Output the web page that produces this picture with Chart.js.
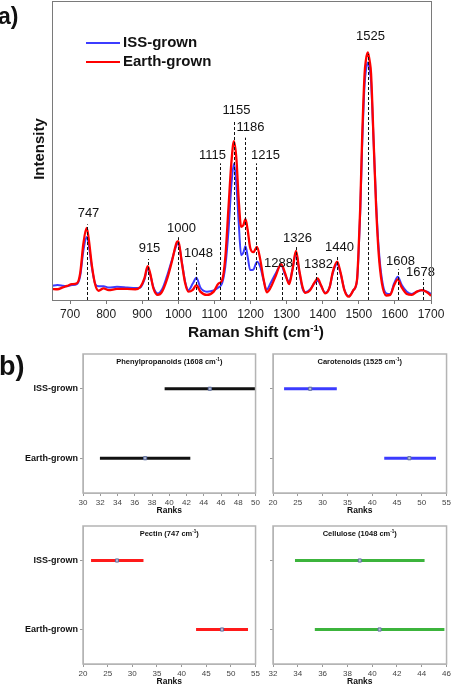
<!DOCTYPE html>
<html>
<head>
<meta charset="utf-8">
<script src="https://cdn.jsdelivr.net/npm/chart.js@4.4.1/dist/chart.umd.min.js"></script>
<style>
  body { margin: 0; background: #fff; }
  #wrap { position: relative; width: 453px; height: 685px; overflow: hidden; background: #fff; }
  .box { position: absolute; }
</style>
</head>
<body>
<div id="wrap">
  <div class="box" style="left:0;top:0;width:453px;height:345px"><canvas id="spectrum"></canvas></div>
  <div class="box" style="left:0;top:344px;width:262px;height:172px"><canvas id="p0"></canvas></div>
  <div class="box" style="left:262px;top:344px;width:191px;height:172px"><canvas id="p1"></canvas></div>
  <div class="box" style="left:0;top:516px;width:262px;height:169px"><canvas id="p2"></canvas></div>
  <div class="box" style="left:262px;top:516px;width:191px;height:169px"><canvas id="p3"></canvas></div>
</div>
<script>
const FONT = "'Liberation Sans', Arial, sans-serif";
Chart.defaults.font.family = FONT;
Chart.defaults.animation = false;

// ---- a) Raman spectra (intensity in arbitrary units, read off the plot)
const ramanShift = [650, 665, 680, 692, 705, 719, 728, 737, 746, 751, 761, 770, 779, 793, 807, 830, 858, 881,
  895, 906, 915, 922, 931, 943, 955, 968, 982, 996, 1000, 1010, 1019, 1028, 1040, 1050, 1061, 1079, 1098,
  1111, 1121, 1130, 1139, 1147, 1154, 1161, 1167, 1174, 1180, 1186, 1192, 1199, 1208, 1218, 1227, 1236,
  1245, 1255, 1268, 1285, 1296, 1307, 1316, 1326, 1335, 1344, 1352, 1365, 1377, 1386, 1395, 1407, 1419,
  1428, 1440, 1450, 1460, 1472, 1485, 1495, 1499, 1504, 1509, 1516, 1520, 1525, 1530, 1534, 1541, 1548,
  1555, 1564, 1576, 1587, 1598, 1608, 1619, 1633, 1647, 1661, 1675, 1689, 1700];
const earthGrown = [3.7, 3.6, 4.2, 4.7, 5.3, 5.6, 8.9, 18.9, 24.1, 21.1, 11.1, 5.0, 3.1, 3.9, 3.3, 3.7, 3.7, 3.6,
  4.4, 7.2, 11.3, 8.9, 3.9, 1.7, 2.8, 6.7, 12.8, 19.4, 19.7, 12.2, 5.6, 2.8, 3.4, 5.0, 2.8, 1.7, 2.8,
  5.5, 6.5, 14.0, 31.0, 46.0, 53.1, 47.0, 34.0, 24.5, 25.0, 27.0, 23.5, 17.5, 16.0, 17.8, 13.5, 7.0,
  2.6, 4.0, 7.5, 12.0, 8.9, 5.3, 10.0, 16.4, 10.0, 4.4, 2.4, 3.3, 5.8, 7.2, 5.0, 2.2, 4.2,
  9.4, 12.8, 8.9, 3.3, 1.1, 3.3, 6.7, 15.6, 31.1, 53.3, 75.6, 80.5, 82.8, 80.0, 75.6, 53.3, 31.0,
  15.6, 5.6, 1.5, 1.7, 5.0, 6.9, 4.2, 2.0, 1.7, 2.8, 3.3, 2.6, 1.4];
const issGrown = [4.7, 5.0, 4.8, 4.6, 5.0, 5.3, 8.0, 16.5, 21.1, 19.0, 10.5, 5.3, 4.6, 4.6, 4.2, 4.4, 4.2, 4.0,
  4.2, 6.8, 10.6, 8.5, 4.2, 2.2, 3.6, 7.8, 13.3, 18.6, 18.9, 12.5, 6.0, 3.3, 5.5, 7.4, 4.2, 2.8, 3.2,
  4.2, 5.5, 11.1, 23.3, 38.5, 45.6, 38.5, 26.5, 15.0, 15.8, 18.0, 14.6, 10.0, 10.2, 12.8, 11.1, 6.7,
  3.5, 5.5, 8.5, 11.7, 8.3, 6.1, 10.0, 15.6, 9.5, 3.9, 2.6, 3.5, 5.6, 6.4, 4.8, 2.4, 4.2,
  9.0, 12.0, 8.6, 3.5, 1.3, 3.3, 6.5, 14.5, 29.5, 50.5, 72.0, 77.0, 79.4, 77.0, 73.0, 53.0, 32.5,
  17.5, 7.0, 2.2, 2.0, 5.6, 7.8, 5.0, 2.8, 2.0, 2.8, 3.3, 2.8, 2.0];
const shiftTicks = [700, 800, 900, 1000, 1100, 1200, 1300, 1400, 1500, 1600, 1700];
const peakShifts = [747, 915, 1000, 1048, 1115, 1155, 1186, 1215, 1288, 1326, 1382, 1440, 1525, 1608, 1678];
const peakMarkTops = [25.3, 13.7, 21, 12.3, 45.7, 60, 54.3, 45.7, 9, 17.7, 9, 14.7, 82.3, 10.3, 7];

// ---- b) rank intervals
const groups = ['ISS-grown', 'Earth-grown'];
const panelNames = ['Phenylpropanoids', 'Carotenoids', 'Pectin', 'Cellulose'];
const panelBands = ['1608', '1525', '747', '1048'];
const issLow = [39.5, 22.3, 21.7, 33.8];
const issHigh = [50.0, 32.8, 32.2, 44.2];
const issMean = [44.7, 27.5, 26.9, 39.0];
const earthLow = [32.0, 42.5, 43.0, 35.4];
const earthHigh = [42.4, 52.8, 53.4, 45.8];
const earthMean = [37.2, 47.5, 48.2, 40.6];
const rankMin = [30, 20, 20, 32];
const rankMax = [50, 55, 55, 46];
const rankStep = [2, 5, 5, 2];

// text with a small raised part, e.g. cm-1
function drawSup(ctx, x, y, base, sup, tail, size, weight, align) {
  ctx.font = weight + ' ' + size + 'px ' + FONT;
  const w1 = ctx.measureText(base).width;
  const w3 = ctx.measureText(tail).width;
  ctx.font = weight + ' ' + (size * 0.62) + 'px ' + FONT;
  const w2 = ctx.measureText(sup).width;
  let sx = align === 'center' ? x - (w1 + w2 + w3) / 2 : x;
  ctx.textAlign = 'left';
  ctx.textBaseline = 'middle';
  ctx.font = weight + ' ' + size + 'px ' + FONT;
  ctx.fillText(base, sx, y);
  ctx.fillText(tail, sx + w1 + w2, y);
  ctx.font = weight + ' ' + (size * 0.62) + 'px ' + FONT;
  ctx.fillText(sup, sx + w1, y - size * 0.32);
}

const spectrumDecor = {
  id: 'spectrumDecor',
  afterDatasetsDraw(chart, args, opts) {
    const {ctx, chartArea: a, scales: {x, y}} = chart;
    ctx.save();
    // dashed peak markers + labels
    ctx.strokeStyle = '#111';
    ctx.lineWidth = 1;
    ctx.fillStyle = '#111';
    ctx.font = '13px ' + FONT;
    ctx.textAlign = 'center';
    ctx.textBaseline = 'middle';
    peakShifts.forEach((p, i) => {
      const px = Math.round(x.getPixelForValue(p)) + 0.5;
      const top = y.getPixelForValue(peakMarkTops[i]);
      ctx.setLineDash([3, 2]);
      ctx.beginPath();
      ctx.moveTo(px, a.bottom);
      ctx.lineTo(px, top);
      ctx.stroke();
      ctx.setLineDash([]);
      ctx.fillText(String(p), px + opts.labelDx[i], top - opts.labelDy[i]);
    });
    ctx.restore();
  },
  afterDraw(chart, args, opts) {
    const {ctx, chartArea: a} = chart;
    ctx.save();
    ctx.strokeStyle = '#7a7a7a';
    ctx.lineWidth = 1;
    ctx.strokeRect(a.left + 0.5, a.top + 0.5, a.right - a.left, a.bottom - a.top);

    // legend
    chart.data.datasets.slice().reverse().forEach((ds, i) => {
      const ly = opts.legendY[i];
      ctx.strokeStyle = ds.borderColor;
      ctx.lineWidth = 2;
      ctx.beginPath();
      ctx.moveTo(86, ly);
      ctx.lineTo(120, ly);
      ctx.stroke();
      ctx.fillStyle = '#111';
      ctx.font = 'bold 15px ' + FONT;
      ctx.textAlign = 'left';
      ctx.textBaseline = 'middle';
      ctx.fillText(ds.label, 123, ly);
    });

    ctx.fillStyle = '#111';
    ctx.font = 'bold 23px ' + FONT;
    ctx.textAlign = 'left';
    ctx.textBaseline = 'middle';
    ctx.fillText('a)', -2, 18);

    ctx.save();
    ctx.translate(40, 149);
    ctx.rotate(-Math.PI / 2);
    ctx.font = 'bold 15px ' + FONT;
    ctx.textAlign = 'center';
    ctx.fillText('Intensity', 0, 0);
    ctx.restore();

    drawSup(ctx, 256, 333, 'Raman Shift (cm', '-1', ')', 15.5, 'bold', 'center');
    ctx.restore();
  }
};

new Chart(document.getElementById('spectrum'), {
  type: 'line',
  data: {
    datasets: [
      {
        label: 'Earth-grown',
        data: ramanShift.map((s, i) => ({x: s, y: earthGrown[i]})),
        borderColor: '#ff0000',
        borderWidth: 2.3,
        pointRadius: 0,
        cubicInterpolationMode: 'monotone'
      },
      {
        label: 'ISS-grown',
        data: ramanShift.map((s, i) => ({x: s, y: issGrown[i]})),
        borderColor: '#3c3cff',
        borderWidth: 2,
        pointRadius: 0,
        cubicInterpolationMode: 'monotone'
      }
    ]
  },
  options: {
    responsive: true,
    maintainAspectRatio: false,
    layout: {padding: {left: 52, right: 22, top: 1, bottom: 0}},
    plugins: {
      legend: {display: false},
      tooltip: {enabled: false},
      spectrumDecor: {
        labelDx: [1, 1, 3, 2, -8, 2, 5, 9, -4, 1, 2, 2, 2, 2, -3],
        labelDy: [11, 11, 9, 10, 8, 10, 10, 8, 10, 9, 9, 9, 18, 8, 7],
        legendY: [43, 62]
      }
    },
    scales: {
      x: {
        type: 'linear',
        min: 650,
        max: 1700,
        afterBuildTicks(scale) { scale.ticks = shiftTicks.map(v => ({value: v})); },
        afterFit(scale) { scale.height = 45; },
        ticks: {color: '#222', font: {size: 12}, padding: 3, maxRotation: 0, callback: v => String(v)},
        grid: {drawOnChartArea: false, drawTicks: true, tickLength: 4, color: '#777'},
        border: {display: false}
      },
      y: {display: false, min: 0, max: 100}
    }
  },
  plugins: [spectrumDecor]
});

const panelDecor = {
  id: 'panelDecor',
  afterDraw(chart, args, opts) {
    const {ctx, chartArea: a} = chart;
    ctx.save();
    ctx.strokeStyle = '#b4b4b4';
    ctx.lineWidth = 1.5;
    ctx.strokeRect(a.left, a.top, a.right - a.left, a.bottom - a.top);
    ctx.fillStyle = '#111';
    drawSup(ctx, (a.left + a.right) / 2, a.top + 8, opts.title + ' (' + opts.band + ' cm', '-1', ')', 7.5, 'bold', 'center');
    if (opts.tag) {
      ctx.font = 'bold 27px ' + FONT;
      ctx.textAlign = 'left';
      ctx.textBaseline = 'middle';
      ctx.fillText(opts.tag, -1, 24);
    }
    ctx.restore();
  }
};

const panelColors = ['#111111', '#3b3bff', '#ff1a1a', '#3cb43c'];
const panelBoxes = [
  {yWidth: 83, top: 10, right: 6, xHeight: 23, titlePad: 0, labels: true, tag: 'b)'},
  {yWidth: 11, top: 10, right: 5, xHeight: 23, titlePad: 0, labels: false},
  {yWidth: 83, top: 10, right: 5, xHeight: 21, titlePad: -2, labels: true},
  {yWidth: 11, top: 10, right: 5, xHeight: 21, titlePad: -2, labels: false}
];

panelNames.forEach((name, i) => {
  const box = panelBoxes[i];
  new Chart(document.getElementById('p' + i), {
    type: 'bar',
    data: {
      labels: groups,
      datasets: [
        {
          type: 'line',
          data: [{x: issMean[i], y: groups[0]}, {x: earthMean[i], y: groups[1]}],
          showLine: false,
          pointStyle: 'rect',
          pointRadius: 2.2,
          pointBorderWidth: 1,
          pointBorderColor: '#5b6b9c',
          pointBackgroundColor: 'rgba(200,206,228,0.9)'
        },
        {
          data: [[issLow[i], issHigh[i]], [earthLow[i], earthHigh[i]]],
          backgroundColor: panelColors[i],
          barThickness: 2.5,
          borderSkipped: false
        }
      ]
    },
    options: {
      indexAxis: 'y',
      responsive: true,
      maintainAspectRatio: false,
      layout: {padding: {left: 0, top: box.top, right: box.right, bottom: 0}},
      plugins: {
        legend: {display: false},
        tooltip: {enabled: false},
        panelDecor: {title: name, band: panelBands[i], tag: box.tag}
      },
      scales: {
        x: {
          type: 'linear',
          min: rankMin[i],
          max: rankMax[i],
          afterFit(scale) { scale.height = box.xHeight; },
          ticks: {stepSize: rankStep[i], color: '#444', font: {size: 8}, padding: 2, maxRotation: 0},
          grid: {drawOnChartArea: false, tickLength: 3, color: '#999'},
          border: {color: '#b4b4b4'},
          title: {display: true, text: 'Ranks', color: '#111', font: {size: 8.5, weight: 'bold'},
            padding: {top: 0, bottom: box.titlePad}}
        },
        y: {
          type: 'category',
          offset: true,
          afterFit(scale) { scale.width = box.yWidth; },
          ticks: {display: box.labels, color: '#111', font: {size: 9, weight: 'bold'}, padding: 2},
          grid: {drawOnChartArea: false, offset: false, tickLength: 3, color: '#999'},
          border: {color: '#b4b4b4'}
        }
      }
    },
    plugins: [panelDecor]
  });
});
</script>
</body>
</html>
